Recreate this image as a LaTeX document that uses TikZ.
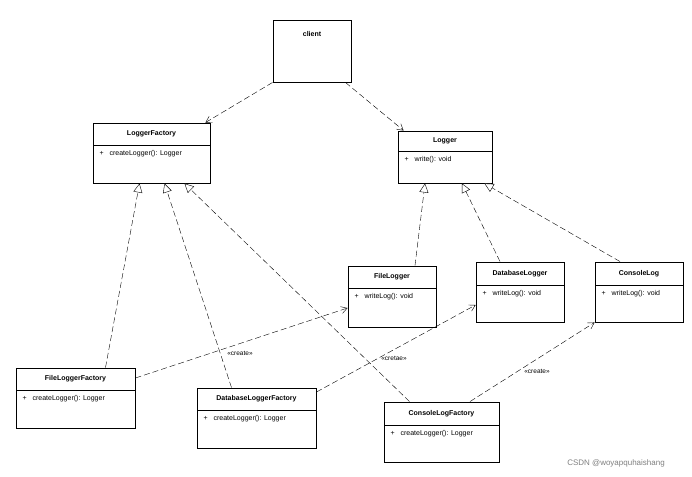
\documentclass[tikz,border=0pt]{standalone}
\usepackage{fontspec}
\setmainfont{Liberation Sans}
\usetikzlibrary{arrows.meta,fit}
\newcommand\umlcls[8]{%
  \node[box,fit={(#2,#3) (#4,#5)}] (#1) {};
  \draw (#2,#6) -- (#4,#6);
  \node[ttl] at ({(#2+#4)/2},{(#3+#6)/2}) {#7};
  \node[mem] at (#2+3,#6+9) {+\hspace{6pt}#8};
}
\begin{document}
\begin{tikzpicture}[x=1pt,y=-1pt,
  box/.style={draw,fill=white,inner sep=0pt,line width=0.9pt,
    drop shadow/.style={}},
  ttl/.style={font=\fontsize{7}{8}\selectfont\bfseries},
  mem/.style={anchor=west,font=\fontsize{7}{8}\selectfont},
  dep/.style={dashed,dash pattern=on 6pt off 3pt,-{Straight Barb[length=6pt,width=7pt]}},
  real/.style={dashed,dash pattern=on 6pt off 3pt,-{Triangle[open,length=9pt,width=9pt,fill=white]}},
  lab/.style={font=\fontsize{6.5}{7}\selectfont}]
\useasboundingbox (0,0) rectangle (692,476);
\fill[white] (0,0) rectangle (692,476);
% client
\node[box,fit={(273,20) (351,82)}] (client) {};
\node[ttl] at (312,34) {client};
\umlcls{lf}{93}{123}{210}{183}{145}{LoggerFactory}{createLogger(): Logger}
\umlcls{lg}{398}{131}{492}{183}{151}{Logger}{write(): void}
\umlcls{fl}{348}{266}{436}{327}{288}{FileLogger}{writeLog(): void}
\umlcls{db}{476}{262}{564}{322}{285}{DatabaseLogger}{writeLog(): void}
\umlcls{cl}{595}{262}{683}{322}{285}{ConsoleLog}{writeLog(): void}
\umlcls{flf}{16}{368}{135}{428}{390}{FileLoggerFactory}{createLogger(): Logger}
\umlcls{dlf}{197}{388}{316}{448}{410}{DatabaseLoggerFactory}{createLogger(): Logger}
\umlcls{clf}{384}{402}{499}{462}{425}{ConsoleLogFactory}{createLogger(): Logger}
% dependencies from client
\draw[dep] (client.south west) -- ([xshift=-5pt]lf.north east);
\draw[dep] ([xshift=-6pt]client.south east) -- ([xshift=6pt]lg.north west);
% realizations
\draw[real] ([xshift=23pt]fl.north) -- ([xshift=-20pt]lg.south);
\draw[real] ([xshift=-20pt]db.north) -- ([xshift=17pt]lg.south);
\draw[real] ([xshift=-19pt]cl.north) -- ([xshift=-8pt]lg.south east);
\draw[real] ([xshift=30pt]flf.north) -- ([xshift=-12pt]lf.south);
\draw[real] ([xshift=-25pt]dlf.north) -- ([xshift=13pt]lf.south);
\draw[real] ([xshift=-32pt]clf.north) -- ([xshift=33pt]lf.south);
% create
\draw[dep] ([yshift=20pt]flf.east) -- ([yshift=-11.5pt]fl.west);
\draw[dep] ([yshift=26pt]dlf.east) -- ([yshift=-13pt]db.west);
\draw[dep] ([xshift=28.5pt]clf.north) -- (cl.south west);
\node[lab] (l1) at (240,353) {«create»};
\node[lab] (l2) at (394,358) {«cretae»};
\node[lab] (l3) at (537,371) {«create»};
\node[font=\fontsize{8}{9}\selectfont,text=gray] (wm) at (616,463) {CSDN @woyapquhaishang};
\end{tikzpicture}
\end{document}
